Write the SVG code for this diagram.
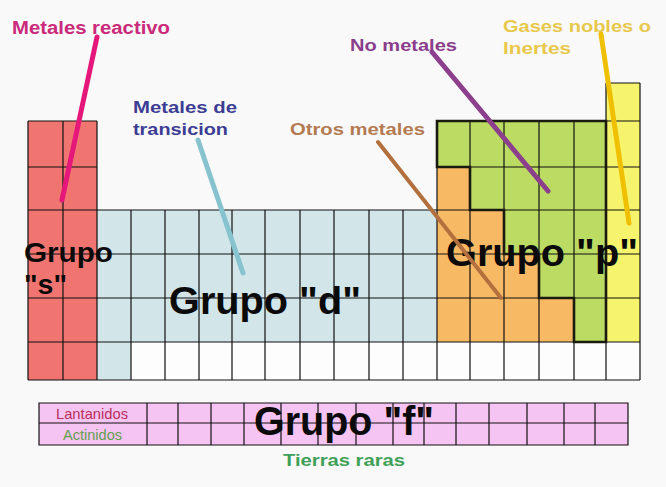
<svg xmlns="http://www.w3.org/2000/svg" width="666" height="487" viewBox="0 0 666 487">
<style>
.g{stroke:#111;stroke-width:1.2;fill:none}
.lbl{font-family:"Liberation Sans",Arial,sans-serif;font-weight:bold}
.big{font-family:"Liberation Sans",Arial,sans-serif;font-weight:bold;fill:#0a0a0a}
.thin{font-family:"Liberation Sans",Arial,sans-serif;font-size:15px}
.con{fill:none;stroke-linecap:round}
</style>
<rect width="666" height="487" fill="#f9f9f9"/>

<g id="d-block">
<rect x="97" y="210" width="340" height="132" fill="#d2e5e8"/>
<rect x="97" y="342" width="34" height="38" fill="#d2e5e8"/>
<rect x="131" y="342" width="306" height="38" fill="#fdfdfd"/>
<path class="g" d="M131,210V380M165,210V380M199,210V380M232,210V380M265,210V380M300,210V380M334,210V380M369,210V380M403,210V380M97,210H437M97,254H437M97,298H437M97,342H437M97,380H437"/>
<text class="big" x="169" y="314" font-size="39" textLength="192" lengthAdjust="spacingAndGlyphs">Grupo "d"</text>
</g>

<g id="p-block">
<rect x="437" y="121" width="169" height="221" fill="#f8b964"/>
<polygon points="437,121 606,121 606,342 574,342 574,298 539,298 539,254 504,254 504,210 470,210 470,167 437,167" fill="#bbdb63"/>
<rect x="606" y="83" width="34" height="259" fill="#f6f36c"/>
<rect x="437" y="342" width="203" height="38" fill="#fdfdfd"/>
<path class="g" d="M437,121V380M470,121V380M504,121V380M539,121V380M574,121V380M606,83V380M640,83V380M606,83H640M437,121H640M437,167H640M437,210H640M437,254H640M437,298H640M437,342H640M437,380H640"/>
<path d="M437,121H606V342H574V298H539V254H504V210H470V167H437Z" fill="none" stroke="#1a1a10" stroke-width="2.6"/>
<text class="big" x="446" y="266" font-size="39" textLength="192" lengthAdjust="spacingAndGlyphs">Grupo "p"</text>
</g>

<g id="s-block">
<rect x="28" y="121" width="69" height="259" fill="#f07570"/>
<path class="g" d="M28,121V380M63,121V380M97,121V380M28,121H97M28,167H97M28,210H97M28,254H97M28,298H97M28,342H97M28,380H97"/>
<text class="big" x="24" y="262" font-size="28" textLength="89" lengthAdjust="spacingAndGlyphs">Grupo</text>
<text class="big" x="24" y="294" font-size="28" textLength="43" lengthAdjust="spacingAndGlyphs">"s"</text>
</g>

<g id="f-block">
<rect x="39" y="403" width="589" height="42" fill="#f6c4f2"/>
<path class="g" d="M39,403H628V445H39ZM39,423H628M147,403V445M178,403V445M211,403V445M244,403V445M281,403V445M318,403V445M356,403V445M393,403V445M424,403V445M456,403V445M489,403V445M527,403V445M564,403V445M595,403V445"/>
<text class="thin" x="56" y="419" fill="#b8305c" textLength="72" lengthAdjust="spacingAndGlyphs">Lantanidos</text>
<text class="thin" x="63" y="440" fill="#62a04e" textLength="59" lengthAdjust="spacingAndGlyphs">Actinidos</text>
<text class="big" x="254" y="435" font-size="41" textLength="180" lengthAdjust="spacingAndGlyphs">Grupo "f"</text>
<text class="lbl" x="283" y="466" font-size="17" fill="#3fa057" textLength="122" lengthAdjust="spacingAndGlyphs">Tierras raras</text>
</g>

<g id="connectors">
<line class="con" x1="97" y1="37" x2="62" y2="200" stroke="#e5177a" stroke-width="5"/>
<line class="con" x1="198" y1="140" x2="243" y2="273" stroke="#86c3cf" stroke-width="5"/>
<line class="con" x1="432" y1="52" x2="548" y2="191" stroke="#8c3f8c" stroke-width="5"/>
<line class="con" x1="378" y1="142" x2="501" y2="298" stroke="#b3703e" stroke-width="4"/>
<line class="con" x1="601" y1="34" x2="629" y2="223" stroke="#efc000" stroke-width="5"/>
</g>

<g id="labels">
<text class="lbl" x="12" y="34" font-size="18" fill="#cb2a7b" textLength="158" lengthAdjust="spacingAndGlyphs">Metales reactivo</text>
<text class="lbl" x="133" y="113" font-size="17" fill="#3d3d94" textLength="104" lengthAdjust="spacingAndGlyphs">Metales de</text>
<text class="lbl" x="133" y="135" font-size="17" fill="#3d3d94" textLength="95" lengthAdjust="spacingAndGlyphs">transicion</text>
<text class="lbl" x="290" y="135" font-size="17" fill="#b47a52" textLength="135" lengthAdjust="spacingAndGlyphs">Otros metales</text>
<text class="lbl" x="350" y="51" font-size="17" fill="#8a3d8a" textLength="107" lengthAdjust="spacingAndGlyphs">No metales</text>
<text class="lbl" x="503" y="32" font-size="17" fill="#e8c84a" textLength="148" lengthAdjust="spacingAndGlyphs">Gases nobles o</text>
<text class="lbl" x="503" y="54" font-size="17" fill="#e8c84a" textLength="68" lengthAdjust="spacingAndGlyphs">Inertes</text>
</g>
</svg>
